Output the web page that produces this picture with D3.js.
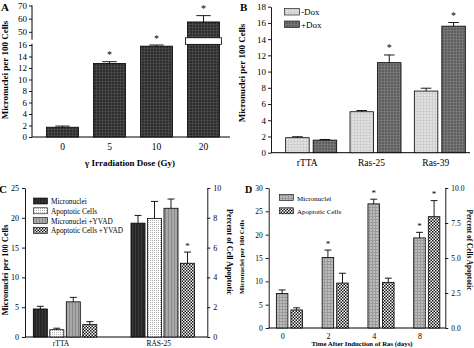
<!DOCTYPE html>
<html><head><meta charset="utf-8">
<script src="https://cdn.jsdelivr.net/npm/d3@7"></script>
<style>body{margin:0;background:#fff} svg{display:block} text{font-family:"Liberation Serif","Times New Roman",serif}</style>
</head><body><svg id="c" width="474" height="348"></svg>
<script>
// ---------- DATA ----------
const aCategories = ["0", "5", "10", "20"];
const aValues = [1.7, 12.8, 15.8, 57.5];
const aErrors = [0.2, 0.3, 0.2, 4.8];
const aStars = [0, 1, 1, 1];
const aYTicks = [0, 2, 4, 6, 8, 10, 12, 14, 16, 50, 60, 70];

const bCategories = ["rTTA", "Ras-25", "Ras-39"];
const bSeries = ["-Dox", "+Dox"];
const bValues = [[1.85, 1.55], [5.05, 11.1], [7.6, 15.6]];
const bErrors = [[0.12, 0.08], [0.15, 0.95], [0.35, 0.45]];
const bStars = [[0, 0], [0, 1], [0, 1]];
const bYTicks = [0, 2, 4, 6, 8, 10, 12, 14, 16, 18];

const cCategories = ["rTTA", "RAS-25"];
const cSeries = ["Micronuclei", "Apoptotic Cells", "Micronuclei +YVAD", "Apoptotic Cells +YVAD"];
const cSeriesAxis = ["left", "right", "left", "right"];
const cValues = [[4.7, 0.49, 5.9, 0.83], [19.1, 7.95, 21.6, 4.95]];
const cErrors = [[0.45, 0.1, 0.75, 0.2], [1.3, 1.15, 1.55, 0.75]];
const cStars = [[0, 0, 0, 0], [0, 0, 0, 1]];
const cLeftTicks = [0, 5, 10, 15, 20, 25];
const cRightTicks = [0, 2, 4, 6, 8, 10];

const dCategories = ["0", "2", "4", "8"];
const dSeries = ["Micronuclei", "Apoptotic Cells"];
const dSeriesAxis = ["left", "right"];
const dValues = [[7.4, 1.29], [15.1, 3.21], [26.6, 3.26], [19.3, 7.95]];
const dErrors = [[0.75, 0.15], [1.6, 0.7], [1.0, 0.3], [1.2, 1.15]];
const dStars = [[0, 0], [1, 0], [1, 0], [1, 1]];
const dLeftTicks = [0, 5, 10, 15, 20, 25, 30];
const dRightTicks = [0, 2.5, 5, 7.5, 10];

// ---------- SETUP ----------
const svg = d3.select("#c");
const defs = svg.append("defs");
function pat(id, w, h, bg, d, col, sw) {
  const p = defs.append("pattern").attr("id", id).attr("width", w).attr("height", h)
    .attr("patternUnits", "userSpaceOnUse");
  p.append("rect").attr("width", w).attr("height", h).attr("fill", bg);
  if (d) p.append("path").attr("d", d).attr("stroke", col).attr("stroke-width", sw || 1).attr("fill", "none");
  return p;
}
pat("pA", 3, 3, "#2c2c2c", "M0,0.5H3M0.5,0V3", "#474747");
pat("pBl", 3, 3, "#e2e2e2", "M0,0.5H3M0.5,0V3", "#cfcfcf");
pat("pBd", 3, 3, "#5e5e5e", "M0,0.5H3M0.5,0V3", "#767676");
pat("pCd", 3, 3, "#272727", "M0.5,0V3", "#3a3a3a");
pat("pDots", 2, 2, "#ffffff", "M0,0.5H1", "#b0b0b0");
pat("pStr", 3, 3, "#a8a8a8", "M0.5,0V3", "#8a8a8a");
pat("pDm", 3, 3, "#bcbcbc", "M0.5,0V3M0,0.5H3", "#9a9a9a");
{
  const p = pat("pChk", 3, 3, "#ffffff");
  p.append("rect").attr("width", 1.5).attr("height", 1.5).attr("fill", "#111");
  p.append("rect").attr("x", 1.5).attr("y", 1.5).attr("width", 1.5).attr("height", 1.5).attr("fill", "#111");
}

function styleAxis(g, fs) {
  g.selectAll("text").attr("font-size", fs).attr("fill", "#000");
  g.selectAll("line,path").attr("stroke", "#000").attr("stroke-width", 0.9);
}
function txt(x, y, s, fs, opts = {}) {
  const t = svg.append("text").attr("x", x).attr("y", y).attr("font-size", fs).text(s)
    .attr("text-anchor", opts.anchor || "middle").attr("font-weight", opts.bold ? "bold" : "normal");
  if (opts.rot) t.attr("transform", `rotate(${opts.rot},${x},${y})`);
  return t;
}
function bar(x, w, y0, y1, fill) {
  svg.append("rect").attr("x", x).attr("y", y1).attr("width", w).attr("height", Math.max(0, y0 - y1))
    .attr("fill", fill).attr("stroke", "#000").attr("stroke-width", 0.8);
}
function errBar(cx, yTop, yErr, cw) {
  svg.append("line").attr("x1", cx).attr("x2", cx).attr("y1", yTop).attr("y2", yErr).attr("stroke", "#000").attr("stroke-width", 0.9);
  svg.append("line").attr("x1", cx - cw / 2).attr("x2", cx + cw / 2).attr("y1", yErr).attr("y2", yErr).attr("stroke", "#000").attr("stroke-width", 0.9);
}
function star(cx, yErr, fs) { txt(cx, yErr - 1.5, "*", fs); }

// ---------- PANEL A ----------
{
  const y = d3.scaleLinear().domain([0, 16, 40, 70]).range([137, 45, 45, 5.5]);
  const x = d3.scaleBand().domain(aCategories).range([39, 227]).paddingInner(0.32).paddingOuter(0.16);
  const ax = svg.append("g").attr("transform", "translate(32,0)")
    .call(d3.axisLeft(y).tickValues(aYTicks).tickFormat(d3.format("d")).tickSize(3).tickPadding(2));
  ax.select(".domain").remove();
  styleAxis(ax, 9);
  svg.append("line").attr("x1", 32).attr("x2", 32).attr("y1", y(0)).attr("y2", y(41)).attr("stroke", "#000");
  svg.append("line").attr("x1", 32).attr("x2", 32).attr("y1", y(44)).attr("y2", y(70)).attr("stroke", "#000");
  svg.append("line").attr("x1", 32).attr("x2", 230).attr("y1", y(0)).attr("y2", y(0)).attr("stroke", "#000");
  aCategories.forEach((c, i) => {
    const bw = x.bandwidth(), cx = x(c) + bw / 2;
    bar(x(c), bw, y(0), y(aValues[i]), "url(#pA)");
    errBar(cx, y(aValues[i]), y(aValues[i] + aErrors[i]), bw * 0.45);
    if (aStars[i]) star(cx, y(aValues[i] + aErrors[i]) - 2, 10);
    txt(cx, 150, c, 9.5);
  });
  // axis break box on the tall bar
  const c3 = aCategories[3];
  svg.append("rect").attr("x", x(c3) - 2).attr("y", y(45.5)).attr("width", x.bandwidth() + 4)
    .attr("height", y(40.5) - y(45.5)).attr("fill", "#fff").attr("stroke", "#000").attr("stroke-width", 0.8);
  txt(8, 70, "Micronuclei per 100 Cells", 9, { bold: true, rot: -90 });
  txt(130, 166, "γ Irradiation Dose (Gy)", 9, { bold: true });
  txt(1, 11, "A", 11, { bold: true, anchor: "start" });
}

// ---------- PANEL B ----------
{
  const y = d3.scaleLinear().domain([0, 18]).range([152.7, 6.7]);
  const x0 = d3.scaleBand().domain(bCategories).range([279, 472]).paddingInner(0.207).paddingOuter(0.1035);
  const x1 = d3.scaleBand().domain(bSeries).range([0, x0.bandwidth()]).paddingInner(0.145);
  const fills = ["url(#pBl)", "url(#pBd)"];
  const ax = svg.append("g").attr("transform", "translate(271,0)")
    .call(d3.axisLeft(y).tickValues(bYTicks).tickSize(3).tickSizeOuter(0).tickPadding(2));
  styleAxis(ax, 9);
  svg.append("line").attr("x1", 271).attr("x2", 470).attr("y1", y(0)).attr("y2", y(0)).attr("stroke", "#000");
  bCategories.forEach((c, i) => {
    bSeries.forEach((s, j) => {
      const bx = x0(c) + x1(s), bw = x1.bandwidth(), cx = bx + bw / 2;
      bar(bx, bw, y(0), y(bValues[i][j]), fills[j]);
      errBar(cx, y(bValues[i][j]), y(bValues[i][j] + bErrors[i][j]), bw * 0.45);
      if (bStars[i][j]) star(cx, y(bValues[i][j] + bErrors[i][j]) - 2, 10);
    });
    txt(x0(c) + x0.bandwidth() / 2 - 4, 166, c, 9.5);
  });
  bSeries.forEach((s, j) => {
    const ly = 8.5 + j * 12.5;
    svg.append("rect").attr("x", 284.5).attr("y", ly).attr("width", 15).attr("height", 6.5)
      .attr("fill", fills[j]).attr("stroke", "#000").attr("stroke-width", 0.6);
    txt(301, ly + 6.5, s, 9, { anchor: "start" });
  });
  txt(245, 73, "Micronuclei per 100 Cells", 9, { bold: true, rot: -90 });
  txt(240, 11, "B", 11, { bold: true, anchor: "start" });
}

// ---------- PANEL C ----------
{
  const yl = d3.scaleLinear().domain([0, 25]).range([337, 188]);
  const yr = d3.scaleLinear().domain([0, 10]).range([337, 188]);
  const x0 = d3.scaleBand().domain(cCategories).range([16.2, 211.6]).paddingInner(0.35).paddingOuter(0.175);
  const x1 = d3.scaleBand().domain(cSeries).range([0, x0.bandwidth()]).paddingInner(0.15);
  const fills = ["url(#pCd)", "url(#pDots)", "url(#pStr)", "url(#pChk)"];
  const al = svg.append("g").attr("transform", "translate(25,0)")
    .call(d3.axisLeft(yl).tickValues(cLeftTicks).tickSize(3).tickSizeOuter(0).tickPadding(3));
  styleAxis(al, 8);
  const ar = svg.append("g").attr("transform", "translate(207.3,0)")
    .call(d3.axisRight(yr).tickValues(cRightTicks).tickSize(3).tickSizeOuter(0).tickPadding(3));
  styleAxis(ar, 8);
  svg.append("line").attr("x1", 25).attr("x2", 207.3).attr("y1", yl(0)).attr("y2", yl(0)).attr("stroke", "#000");
  cCategories.forEach((c, i) => {
    cSeries.forEach((s, j) => {
      const y = cSeriesAxis[j] === "left" ? yl : yr;
      const bx = x0(c) + x1(s), bw = x1.bandwidth(), cx = bx + bw / 2;
      bar(bx, bw, y(0), y(cValues[i][j]), fills[j]);
      errBar(cx, y(cValues[i][j]), y(cValues[i][j] + cErrors[i][j]), bw * 0.5);
      if (cStars[i][j]) star(cx, y(cValues[i][j] + cErrors[i][j]) - 2, 9);
    });
    txt(x0(c) + x0.bandwidth() / 2 - 4, 345.5, c, 7.5);
  });
  cSeries.forEach((s, j) => {
    const ly = 198 + j * 9.8;
    svg.append("rect").attr("x", 33.5).attr("y", ly).attr("width", 14).attr("height", 6)
      .attr("fill", fills[j]).attr("stroke", "#000").attr("stroke-width", 0.6);
    txt(51, ly + 6, s, 7.3, { anchor: "start" });
  });
  txt(8, 270, "Micronuclei per 100 Cells", 8.3, { bold: true, rot: -90 });
  txt(227, 252, "Percent of Cell Apoptotic", 8, { bold: true, rot: 90 });
  txt(-1, 193, "C", 11, { bold: true, anchor: "start" });
}

// ---------- PANEL D ----------
{
  const yl = d3.scaleLinear().domain([0, 30]).range([328, 188]);
  const yr = d3.scaleLinear().domain([0, 10]).range([328, 188]);
  const x0 = d3.scaleBand().domain(dCategories).range([266.5, 449.7]).paddingInner(0.43).paddingOuter(0.215);
  const x1 = d3.scaleBand().domain(dSeries).range([0, x0.bandwidth()]).paddingInner(0.207);
  const fills = ["url(#pDm)", "url(#pChk)"];
  const al = svg.append("g").attr("transform", "translate(268.7,0)")
    .call(d3.axisLeft(yl).tickValues(dLeftTicks).tickSize(3).tickSizeOuter(0).tickPadding(3));
  styleAxis(al, 7.5);
  const ar = svg.append("g").attr("transform", "translate(445.3,0)")
    .call(d3.axisRight(yr).tickValues(dRightTicks).tickFormat(d3.format(".1f")).tickSize(3).tickSizeOuter(0).tickPadding(3));
  styleAxis(ar, 7.5);
  svg.append("line").attr("x1", 268.7).attr("x2", 445.3).attr("y1", yl(0)).attr("y2", yl(0)).attr("stroke", "#000");
  dCategories.forEach((c, i) => {
    dSeries.forEach((s, j) => {
      const y = dSeriesAxis[j] === "left" ? yl : yr;
      const bx = x0(c) + x1(s), bw = x1.bandwidth(), cx = bx + bw / 2;
      bar(bx, bw, y(0), y(dValues[i][j]), fills[j]);
      errBar(cx, y(dValues[i][j]), y(dValues[i][j] + dErrors[i][j]), bw * 0.6);
      if (dStars[i][j]) star(cx, y(dValues[i][j] + dErrors[i][j]) - 2, 9);
    });
    txt(x0(c) + x1.bandwidth() * 0.55, 339, c, 8);
  });
  dSeries.forEach((s, j) => {
    const ly = 194.5 + j * 13.3;
    svg.append("rect").attr("x", 279.5).attr("y", ly).attr("width", 14).attr("height", 6)
      .attr("fill", fills[j]).attr("stroke", "#000").attr("stroke-width", 0.6);
    txt(297, ly + 6, s, 7, { anchor: "start" });
  });
  txt(244, 257, "Micronuclei per 100 Cells", 6.8, { bold: true, rot: -90 });
  txt(467, 250, "Percent of Cells Apoptotic", 7.3, { bold: true, rot: 90 });
  txt(362, 345.5, "Time After Induction of Ras (days)", 6.8, { bold: true });
  txt(245, 193, "D", 10, { bold: true, anchor: "start" });
}
</script></body></html>
